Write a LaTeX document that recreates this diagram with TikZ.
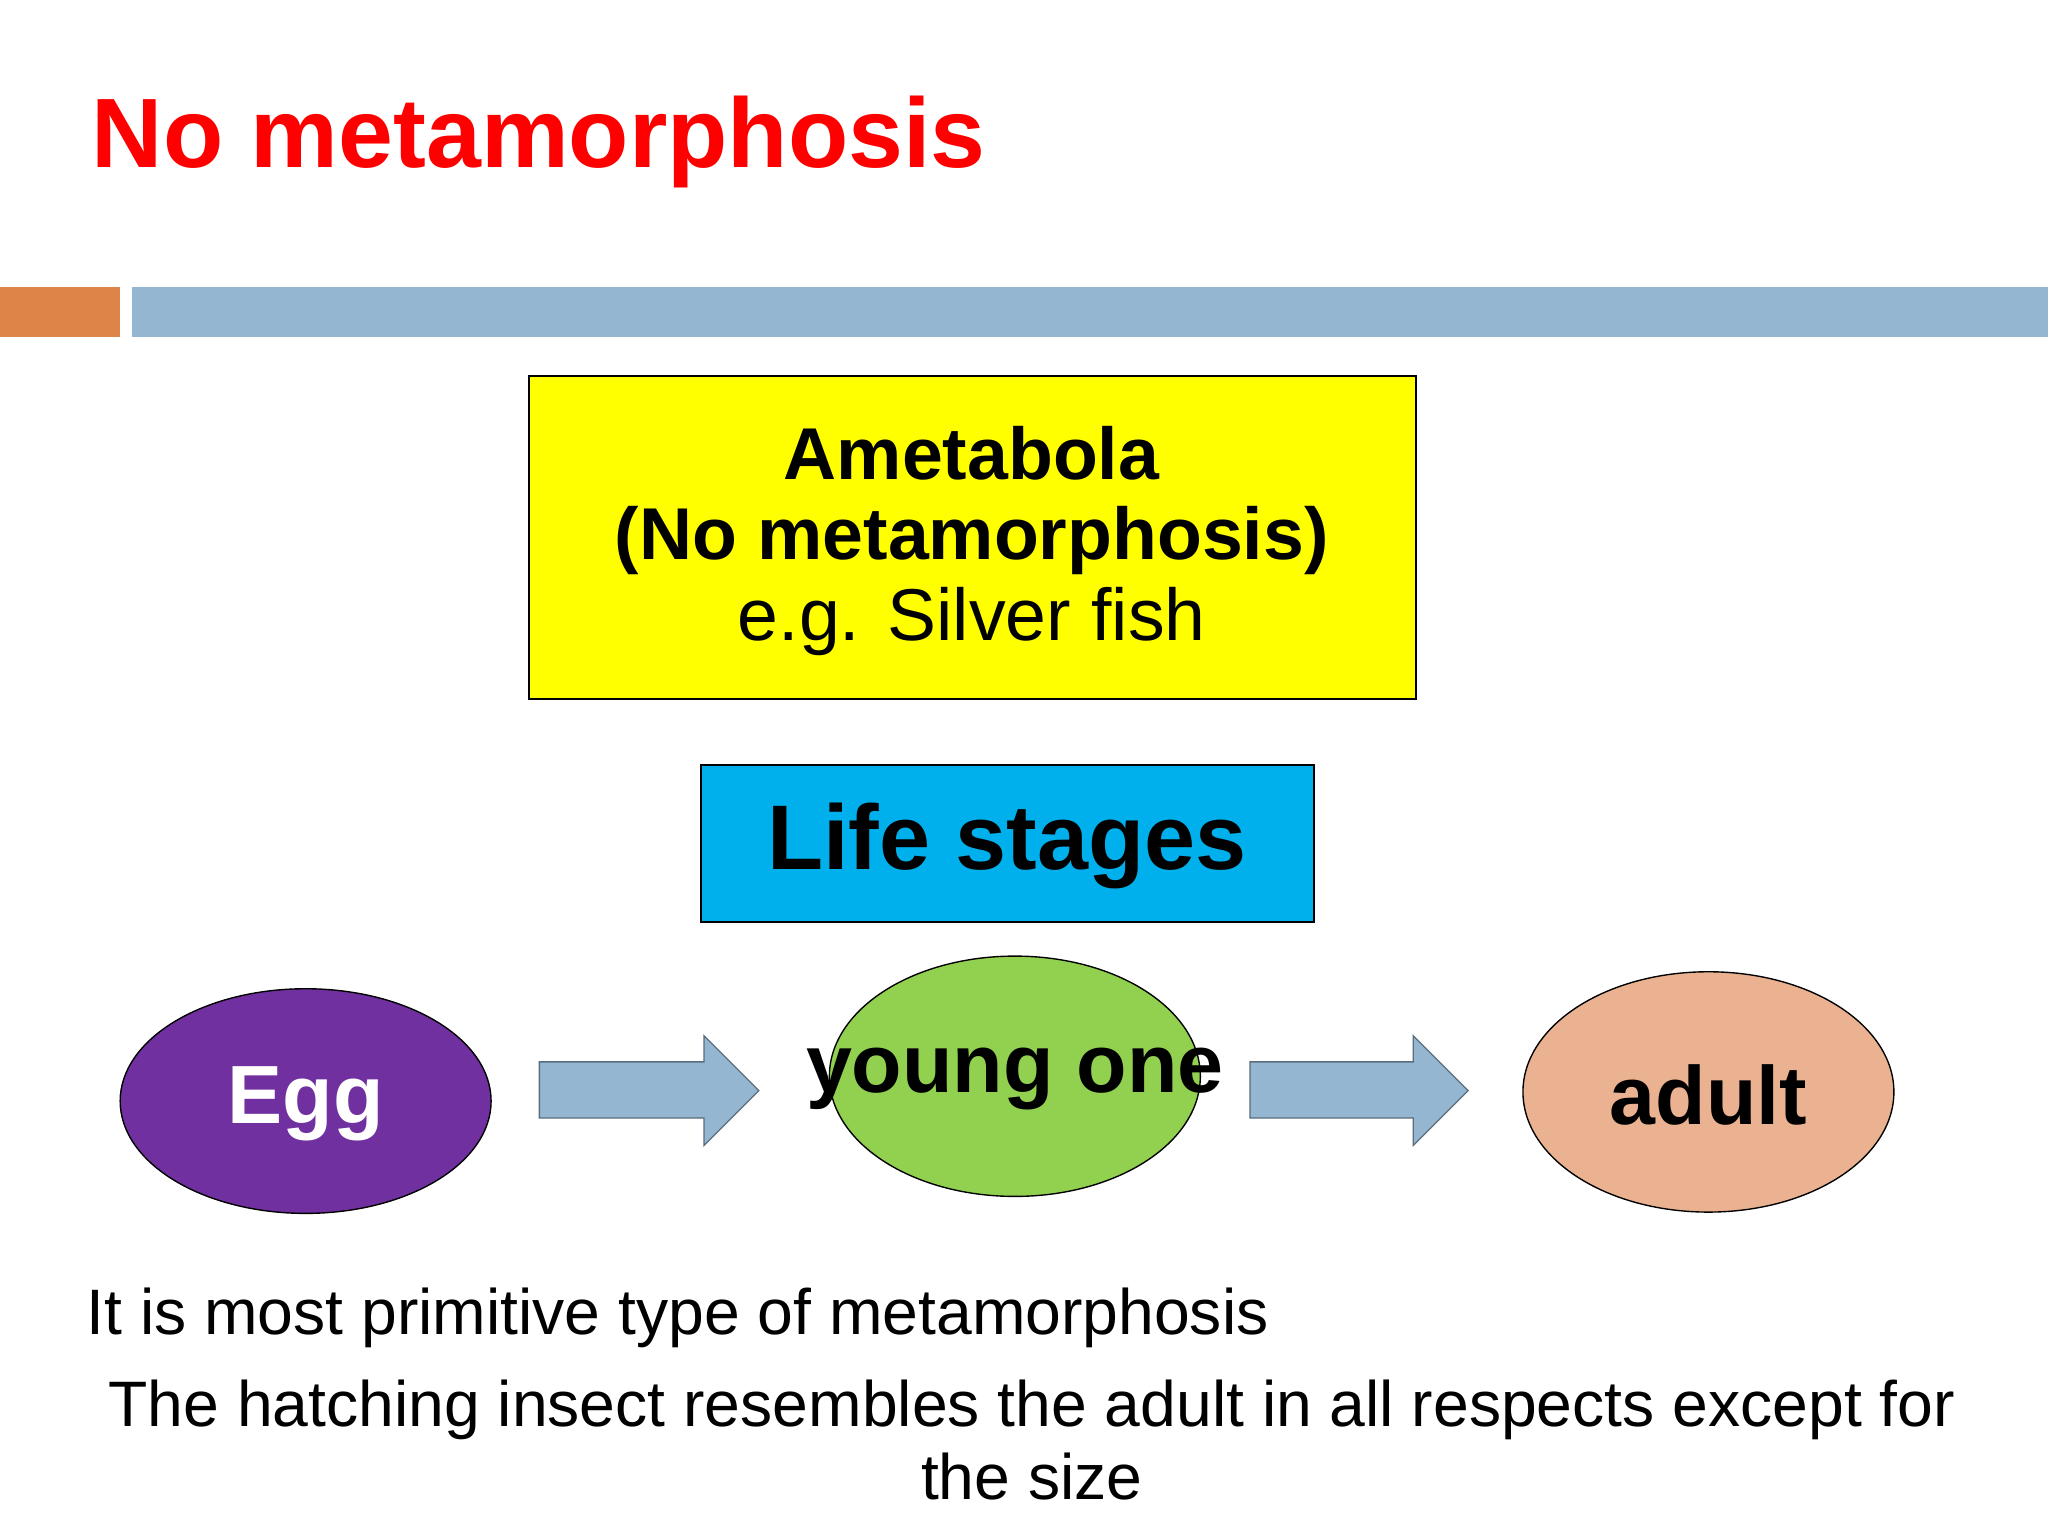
\documentclass[tikz,border=0pt]{standalone}
\usepackage{fontspec}
\setmainfont{Liberation Sans}
\usetikzlibrary{shapes.arrows}
\definecolor{tred}{RGB}{255,0,0}
\definecolor{bar}{RGB}{149,182,208}
\definecolor{orng}{RGB}{221,132,72}
\definecolor{yel}{RGB}{255,255,0}
\definecolor{cyanb}{RGB}{0,176,236}
\definecolor{purp}{RGB}{112,48,160}
\definecolor{grn}{RGB}{146,208,80}
\definecolor{peach}{RGB}{235,178,146}
\begin{document}
\begin{tikzpicture}[x=0.02cm,y=-0.02cm,
  stage/.style={ellipse,draw=black,line width=0.8pt,minimum width=284\pgflinewidth},
  arr/.style={fill=bar,draw=bar!60!black,line width=0.6pt}]
\useasboundingbox (0,0) rectangle (1568,1176);
\node[anchor=base west,text=tred,font=\fontsize{43}{50}\selectfont\bfseries,inner sep=0] (title) at (70,128) {No metamorphosis};
\fill[orng] (0,220) rectangle (92,258);
\fill[bar] (101,220) rectangle (1568,258);
\draw[fill=yel,line width=0.8pt] (405,288) rectangle (1084,535);
\node[align=center,font=\fontsize{32}{36}\selectfont,inner sep=0] (amet) at (744,414) {\textbf{Ametabola}\\[-1pt]\textbf{(No metamorphosis)}\\[-1pt]e.g. Silver fish};
\draw[fill=cyanb,line width=0.8pt] (537,586) rectangle (1006,706);
\node[font=\fontsize{40}{44}\selectfont\bfseries,inner sep=0] (life) at (771,648) {Life stages};
\draw[fill=purp,line width=0.6pt] (234,843) ellipse [x radius=142,y radius=86];
\node[text=white,font=\fontsize{36}{40}\selectfont\bfseries] (egg) at (234,845) {Egg};
\draw[fill=grn,line width=0.6pt] (777,824) ellipse [x radius=142,y radius=92];
\node[font=\fontsize{36}{40}\selectfont\bfseries] (young) at (777,826) {young one};
\draw[fill=peach,line width=0.6pt] (1308,836) ellipse [x radius=142,y radius=92];
\node[font=\fontsize{36}{40}\selectfont\bfseries] (adult) at (1308,838) {adult};
\draw[arr] (413,813) -- (539,813) -- (539,793) -- (581,835) -- (539,877) -- (539,856) -- (413,856) -- cycle;
\draw[arr] (957,813) -- (1082,813) -- (1082,793) -- (1124,835) -- (1082,877) -- (1082,856) -- (957,856) -- cycle;
\node[anchor=base west,font=\fontsize{28}{32}\selectfont,inner sep=0] (t1) at (66,1022) {It is most primitive type of metamorphosis};
\node[anchor=base,font=\fontsize{28}{32}\selectfont,inner sep=0] (t2) at (790,1092) {The hatching insect resembles the adult in all respects except for};
\node[anchor=base,font=\fontsize{28}{32}\selectfont,inner sep=0] (t3) at (790,1148) {the size};
\end{tikzpicture}
\end{document}
